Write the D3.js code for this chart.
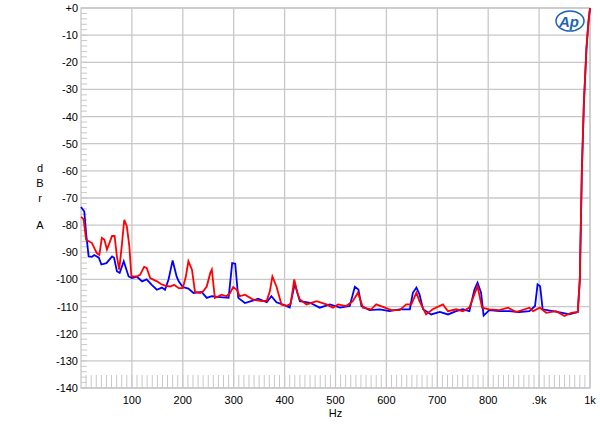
<!DOCTYPE html>
<html><head><meta charset="utf-8">
<script src="https://cdn.jsdelivr.net/npm/d3@7"></script>
<style>body{margin:0;background:#fff}text{font-family:Arial,"Liberation Sans",sans-serif}</style>
</head><body><div id="chart"></div>
<script>
var yTicks = [0,-10,-20,-30,-40,-50,-60,-70,-80,-90,-100,-110,-120,-130,-140];
var xTicks = [100,200,300,400,500,600,700,800,900,1000];
var xTickLabels = ["100","200","300","400","500","600","700","800",".9k","1k"];

var blueHz = [0,6.5,10,15,21.5,26,35,40,50,61,65,70.5,76,84,93.5,100,110,120,129,139,149,159,165,172,180,188,192,200,211,221,237,247,257,273,290,297,303,309,322,339,348,365,374,384,397,410,420,430,450,469,489,509,528,538,545,551,567,587,606,626,646,652,659,665,672,688,705,721,737,750,763,773,779,786,791,802,822,841,861,881,892,897,902,907,927,946,959,976,980,984,988,993,997,1000];
var blueDb = [-73.3,-75,-83,-91.5,-91.7,-91,-92,-94.5,-94,-91.5,-92,-97,-97.6,-93.3,-98.9,-99.5,-99,-100.7,-100,-102,-103.8,-103,-103.8,-100,-93,-99,-100.7,-102.8,-103.4,-105,-104.6,-106.8,-106.2,-106.5,-106.8,-94,-94.2,-106.8,-108.7,-107.7,-107.1,-108.4,-106.2,-108.4,-109.3,-110.3,-101.6,-108,-108.6,-110.4,-109.2,-110.4,-109.8,-102.7,-103.7,-109.8,-111.3,-111,-111.7,-111,-111,-104.9,-103,-105.5,-111,-112.9,-112,-112.9,-111.7,-111,-111.7,-103.7,-101.2,-104.9,-113.3,-111.3,-111.7,-111.7,-112,-111.7,-109.8,-101.8,-102.5,-111,-111.7,-112.3,-112.9,-112,-100,-60,-35,-15,-5,0];

var redHz = [0,5,10,21.5,31,36,41,46,51,61,66,70.5,75,80,85,90,95,99,110,116,124,129,136,149,157,165,175,183,192,200,206,211,218,224,234,240,247,254,257,263,270,276,286,293,299,306,312,322,339,355,365,371,376,384,394,404,412,419,425,430,443,463,482,495,505,521,534,544,554,570,580,597,610,626,639,649,659,665,678,691,711,721,737,750,763,779,788,802,822,839,855,881,888,901,914,933,950,963,976,980,984,988,993,997,1000];
var redDb = [-77,-77.7,-85.4,-86.6,-90.3,-91,-84.7,-85.4,-89,-84,-84,-91.5,-96.4,-87.8,-78,-80.4,-87.8,-98.9,-98.9,-98.3,-95.4,-95.8,-99.5,-100.7,-101.7,-102.3,-102.6,-102,-103.2,-103.2,-98.9,-93.3,-96.4,-104.6,-105,-104.4,-102.6,-97.6,-96.4,-106.8,-106.2,-105.6,-106.2,-105,-102.8,-103.8,-106.2,-105.6,-107.5,-108,-107.8,-104.4,-98.9,-102.6,-109.3,-109.7,-109,-100,-105,-107.4,-109.2,-108,-109.2,-110.4,-109.2,-109.8,-108,-104.9,-110.4,-111,-109.2,-110.4,-111.3,-111.3,-109.2,-109.2,-104.9,-108,-112.9,-111,-109.2,-111.7,-111,-111.7,-110.4,-102.5,-110.4,-111,-111.3,-110.4,-112,-110.4,-111.7,-110.4,-112.3,-111.7,-113.5,-112.3,-112,-100,-60,-35,-15,-5,0];

var svg = d3.select("#chart").append("svg").attr("width", 600).attr("height", 431);
var plotL = 81, plotR = 590, plotT = 8, plotB = 388;
var x = d3.scaleLinear().domain([0, 1000]).range([plotL, plotR]);
var y = d3.scaleLinear().domain([-140, 0]).range([plotB, plotT]);
var grid = "#c8c8c8";

// minor ticks
svg.append("g").selectAll("line").data(d3.range(10, 1000, 10)).join("line")
    .attr("x1", d => x(d)).attr("x2", d => x(d)).attr("y1", plotB).attr("y2", plotB - 13)
    .style("stroke", grid).style("stroke-width", 1);
svg.append("g").selectAll("line").data(d3.range(-140, 0, 2)).join("line")
    .attr("x1", plotL).attr("x2", plotL + 6).attr("y1", d => y(d)).attr("y2", d => y(d))
    .style("stroke", grid).style("stroke-width", 1);

// grid
svg.append("g").selectAll("line").data(xTicks).join("line")
    .attr("x1", d => x(d)).attr("x2", d => x(d)).attr("y1", plotT).attr("y2", plotB)
    .style("stroke", grid).style("stroke-width", 1.3);
svg.append("g").selectAll("line").data(yTicks).join("line")
    .attr("x1", plotL).attr("x2", plotR).attr("y1", d => y(d)).attr("y2", d => y(d))
    .style("stroke", grid).style("stroke-width", 1.3);
svg.append("rect").attr("x", plotL).attr("y", plotT).attr("width", plotR - plotL).attr("height", plotB - plotT)
    .style("fill", "none").style("stroke", grid).style("stroke-width", 1.3);

// labels
svg.append("g").selectAll("text").data(yTicks).join("text")
    .attr("x", plotL - 3).attr("y", d => y(d) + 4).attr("text-anchor", "end")
    .attr("font-size", 11).text(d => d == 0 ? "+0" : d);
svg.append("g").selectAll("text").data(xTicks).join("text")
    .attr("x", d => x(d)).attr("y", plotB + 16).attr("text-anchor", "middle")
    .attr("font-size", 11).text((d, i) => xTickLabels[i]);
svg.append("text").attr("x", x(500)).attr("y", 417).attr("text-anchor", "middle").attr("font-size", 11).text("Hz");
[["d",172],["B",187],["r",202],["A",229]].forEach(function(p) {
    svg.append("text").attr("x", 40).attr("y", p[1]).attr("text-anchor", "middle").attr("font-size", 11).text(p[0]);
});

// series
var line = d3.line().x(d => x(d[0])).y(d => y(d[1]));
svg.append("path").datum(d3.zip(blueHz, blueDb)).attr("d", line)
    .style("fill", "none").style("stroke", "#0000ff").style("stroke-width", 1.8);
svg.append("path").datum(d3.zip(redHz, redDb)).attr("d", line)
    .style("fill", "none").style("stroke", "#ff0000").style("stroke-width", 1.8);

// logo
svg.append("ellipse").attr("cx", 570).attr("cy", 21).attr("rx", 14).attr("ry", 10)
    .style("fill", "none").style("stroke", "#1e64b4").style("stroke-width", 1.5);
svg.append("text").attr("x", 569).attr("y", 27).attr("text-anchor", "middle")
    .attr("font-size", 15).attr("font-style", "italic").attr("font-weight", "bold")
    .style("fill", "#1e64b4").text("Ap");
</script></body></html>
